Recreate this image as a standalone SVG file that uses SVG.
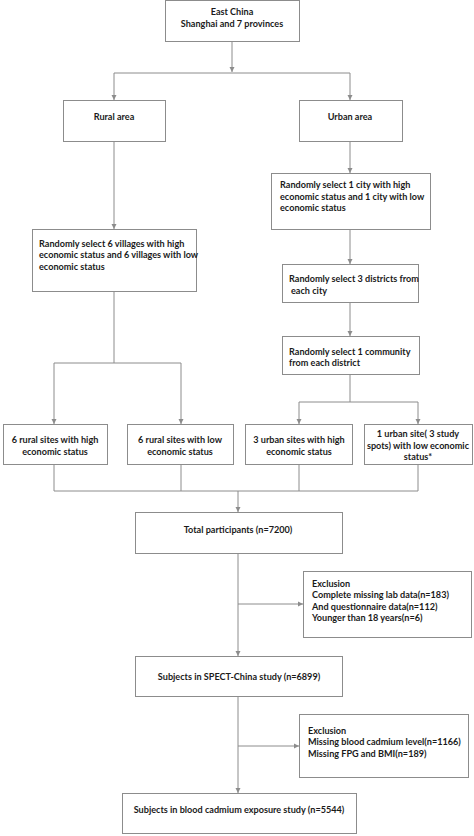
<svg xmlns="http://www.w3.org/2000/svg" width="474" height="836" viewBox="0 0 474 836">
<style>
.b{fill:#fff;stroke:#8c8c8c;stroke-width:1}
.t{font-family:Lato,"Liberation Sans",sans-serif;font-weight:bold;font-size:9.1px;fill:#1a1a1a}
.c{text-anchor:middle}
.l{fill:none;stroke:#8c8c8c;stroke-width:1}
</style>
<defs>
<marker id="a" markerWidth="6" markerHeight="6" refX="5" refY="3" orient="auto" markerUnits="userSpaceOnUse">
<path d="M0,0.5 L5,3 L0,5.5 Z" fill="#8c8c8c"/>
</marker>
</defs>
<g id="connectors">
<path class="l" d="M232,41 V72" marker-end="url(#a)"/>
<path class="l" d="M114,73 H350"/>
<path class="l" d="M114,73 V100" marker-end="url(#a)"/>
<path class="l" d="M350,73 V100" marker-end="url(#a)"/>
<path class="l" d="M114,141 V229" marker-end="url(#a)"/>
<path class="l" d="M350,141 V173" marker-end="url(#a)"/>
<path class="l" d="M350,229 V264" marker-end="url(#a)"/>
<path class="l" d="M350,302 V336" marker-end="url(#a)"/>
<path class="l" d="M114,291 V363 M54,363 H181"/>
<path class="l" d="M54,363 V424" marker-end="url(#a)"/>
<path class="l" d="M181,363 V424" marker-end="url(#a)"/>
<path class="l" d="M350,374 V402 M299,402 H418"/>
<path class="l" d="M299,402 V424" marker-end="url(#a)"/>
<path class="l" d="M418,402 V424" marker-end="url(#a)"/>
<path class="l" d="M54,464 V491 M181,464 V491 M299,464 V491 M418,464 V491 M54,491 H418"/>
<path class="l" d="M238,491 V512" marker-end="url(#a)"/>
<path class="l" d="M238,553 V656" marker-end="url(#a)"/>
<path class="l" d="M238,604 H303" marker-end="url(#a)"/>
<path class="l" d="M238,696 V793" marker-end="url(#a)"/>
<path class="l" d="M238,746 H299" marker-end="url(#a)"/>
</g>
<g id="east"><rect class="b" x="165.5" y="0.5" width="134" height="41"/>
<text class="t c" x="232" y="15">East China</text><text class="t c" x="232" y="27">Shanghai and 7 provinces</text></g>
<g id="rural"><rect class="b" x="63.5" y="100.5" width="102" height="41"/><text class="t c" x="114" y="120">Rural area</text></g>
<g id="urban"><rect class="b" x="299.5" y="100.5" width="103" height="41"/><text class="t c" x="350" y="120">Urban area</text></g>
<g id="city"><rect class="b" x="271.5" y="173.5" width="159" height="56"/>
<text class="t" x="280" y="188">Randomly select 1 city with high</text>
<text class="t" x="280" y="200">economic status and 1 city with low</text>
<text class="t" x="280" y="211">economic status</text></g>
<g id="villages"><rect class="b" x="32.5" y="229.5" width="164" height="62"/>
<text class="t" x="39" y="247">Randomly select 6 villages with high</text>
<text class="t" x="39" y="258">economic status and 6 villages with low</text>
<text class="t" x="39" y="270">economic status</text></g>
<g id="districts"><rect class="b" x="282.5" y="264.5" width="136" height="38"/>
<text class="t" x="289" y="282">Randomly select 3 districts from</text>
<text class="t" x="291" y="294">each city</text></g>
<g id="community"><rect class="b" x="282.5" y="336.5" width="137" height="38"/>
<text class="t" x="289" y="355">Randomly select 1 community</text>
<text class="t" x="289" y="366">from each district</text></g>
<g id="r1"><rect class="b" x="3.5" y="424.5" width="104" height="40"/>
<text class="t c" x="55" y="443">6 rural sites with high</text><text class="t c" x="55" y="455">economic status</text></g>
<g id="r2"><rect class="b" x="127.5" y="424.5" width="106" height="40"/>
<text class="t c" x="180" y="443">6 rural sites with low</text><text class="t c" x="180" y="455">economic status</text></g>
<g id="u1"><rect class="b" x="245.5" y="424.5" width="107" height="40"/>
<text class="t c" x="299" y="443">3 urban sites with high</text><text class="t c" x="299" y="455">economic status</text></g>
<g id="u2"><rect class="b" x="364.5" y="424.5" width="108" height="40"/>
<text class="t c" x="418" y="437">1 urban site( 3 study</text><text class="t c" x="418" y="449">spots) with low economic</text><text class="t c" x="418" y="460">status*</text></g>
<g id="total"><rect class="b" x="135.5" y="512.5" width="207" height="41"/><text class="t c" x="238" y="533">Total participants (n=7200)</text></g>
<g id="excl1"><rect class="b" x="303.5" y="571.5" width="168" height="66"/>
<text class="t" x="312" y="587">Exclusion</text>
<text class="t" x="312" y="598">Complete missing lab data(n=183)</text>
<text class="t" x="312" y="610">And questionnaire data(n=112)</text>
<text class="t" x="312" y="621">Younger than 18 years(n=6)</text></g>
<g id="spect"><rect class="b" x="135.5" y="656.5" width="207" height="40"/><text class="t c" x="239" y="680">Subjects in SPECT-China study (n=6899)</text></g>
<g id="excl2"><rect class="b" x="299.5" y="714.5" width="169" height="63"/>
<text class="t" x="308" y="734">Exclusion</text>
<text class="t" x="308" y="745">Missing blood cadmium level(n=1166)</text>
<text class="t" x="308" y="757">Missing FPG and BMI(n=189)</text></g>
<g id="final"><rect class="b" x="122.5" y="793.5" width="234" height="40"/><text class="t c" x="239" y="813">Subjects in blood cadmium exposure study (n=5544)</text></g>
</svg>
